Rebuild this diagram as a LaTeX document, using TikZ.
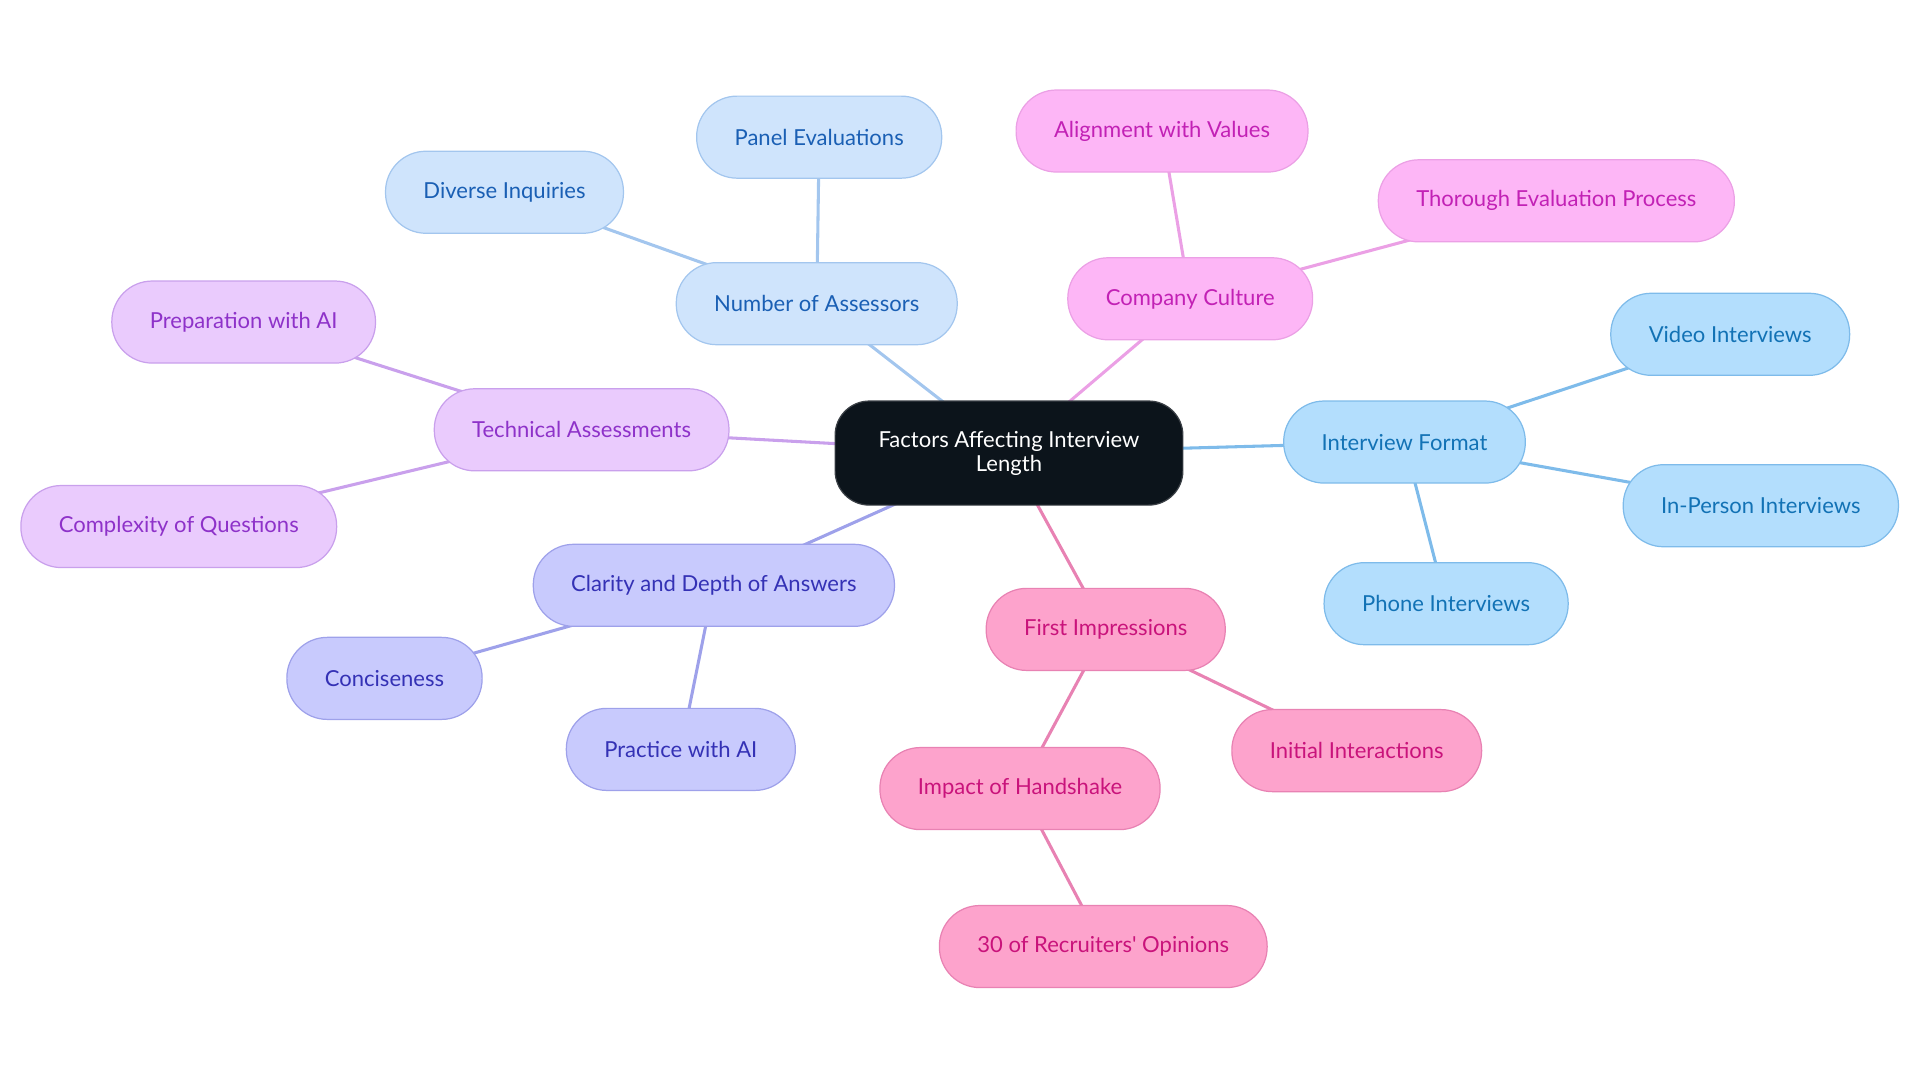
\documentclass[tikz,border=0pt]{standalone}
\usepackage{fontspec}
\setmainfont{Lato}
\usepackage{tikz}
\usetikzlibrary{positioning, backgrounds}

\definecolor{zentrumfill}{HTML}{0C141B}
\definecolor{zentrumrand}{HTML}{3A3F45}
\definecolor{hellblaufill}{HTML}{CFE4FC}
\definecolor{hellblaulinie}{HTML}{A3C6EE}
\definecolor{hellblautext}{HTML}{1A5FB4}
\definecolor{himmelfill}{HTML}{B3DEFD}
\definecolor{himmellinie}{HTML}{7EBBEA}
\definecolor{himmeltext}{HTML}{1272B5}
\definecolor{magentafill}{HTML}{FDB6F6}
\definecolor{magentalinie}{HTML}{EBA0E5}
\definecolor{magentatext}{HTML}{C221B5}
\definecolor{lilafill}{HTML}{EACBFD}
\definecolor{lilalinie}{HTML}{C9A0EC}
\definecolor{lilatext}{HTML}{8E32C9}
\definecolor{violettfill}{HTML}{C8CAFD}
\definecolor{violettlinie}{HTML}{9EA1EA}
\definecolor{violetttext}{HTML}{3431B5}
\definecolor{rosafill}{HTML}{FDA3CC}
\definecolor{rosalinie}{HTML}{E882B3}
\definecolor{rosatext}{HTML}{C9137B}

\begin{document}
\begin{tikzpicture}[x=0.5pt, y=-0.5pt,
        pille/.style={rectangle, rounded corners=16.5pt, minimum height=33.5pt,
            inner xsep=15.5pt, line width=0.5pt, font=\fontsize{9}{9.7}\selectfont},
        hellblau/.style={pille, fill=hellblaufill, draw=hellblaulinie, text=hellblautext},
        himmel/.style={pille, fill=himmelfill, draw=himmellinie, text=himmeltext},
        magenta/.style={pille, fill=magentafill, draw=magentalinie, text=magentatext},
        lila/.style={pille, fill=lilafill, draw=lilalinie, text=lilatext},
        violett/.style={pille, fill=violettfill, draw=violettlinie, text=violetttext},
        rosa/.style={pille, fill=rosafill, draw=rosalinie, text=rosatext},
        ast/.style={line width=1.25pt}]

        \useasboundingbox (0,0) rectangle (1568,884.5);

        % Zentrum
        \node[rectangle, rounded corners=14pt, minimum width=142pt, minimum height=42.5pt,
            fill=zentrumfill, draw=zentrumrand, line width=0.5pt, text=white, align=center,
            font=\fontsize{9}{9.7}\selectfont] (zentrum) at (824, 370)
            {Factors Affecting Interview\\Length};

        % Anzahl der Assessoren
        \node[hellblau] (anzahl) at (667, 248) {Number of Assessors};
        \node[hellblau] (panel) at (669, 112) {Panel Evaluations};
        \node[hellblau] (fragen) at (412, 157) {Diverse Inquiries};

        % Unternehmenskultur
        \node[magenta] (kultur) at (972, 244) {Company Culture};
        \node[magenta] (werte) at (949, 107) {Alignment with Values};
        \node[magenta] (prozess) at (1271, 164) {Thorough Evaluation Process};

        % Interviewformat
        \node[himmel] (format) at (1147, 361) {Interview Format};
        \node[himmel] (video) at (1413, 273) {Video Interviews};
        \node[himmel] (person) at (1438, 413) {In-Person Interviews};
        \node[himmel] (telefon) at (1181, 493) {Phone Interviews};

        % Technische Tests
        \node[lila] (technik) at (475, 351) {Technical Assessments};
        \node[lila] (vorbereitung) at (199, 263) {Preparation with AI};
        \node[lila] (komplex) at (146, 430) {Complexity of Questions};

        % Klarheit der Antworten
        \node[violett] (klarheit) at (583, 478) {Clarity and Depth of Answers};
        \node[violett] (kurz) at (314, 554) {Conciseness};
        \node[violett] (uebung) at (556, 612) {Practice with AI};

        % Erster Eindruck
        \node[rosa] (eindruck) at (903, 514) {First Impressions};
        \node[rosa] (kontakt) at (1108, 613) {Initial Interactions};
        \node[rosa] (hand) at (833, 644) {Impact of Handshake};
        \node[rosa] (meinung) at (901, 773) {30 of Recruiters\textquotesingle\ Opinions};

        % Verbindungen (hinter den Knoten)
        \begin{scope}[on background layer]
        \draw[ast, hellblaulinie] (zentrum.center) -- (anzahl.center);
        \draw[ast, hellblaulinie] (anzahl.center) -- (panel.center);
        \draw[ast, hellblaulinie] (anzahl.center) -- (fragen.center);

        \draw[ast, magentalinie] (zentrum.center) -- (kultur.center);
        \draw[ast, magentalinie] (kultur.center) -- (werte.center);
        \draw[ast, magentalinie] (kultur.center) -- (prozess.center);

        \draw[ast, himmellinie] (zentrum.center) -- (format.center);
        \draw[ast, himmellinie] (format.center) -- (video.center);
        \draw[ast, himmellinie] (format.center) -- (person.center);
        \draw[ast, himmellinie] (format.center) -- (telefon.center);

        \draw[ast, lilalinie] (zentrum.center) -- (technik.center);
        \draw[ast, lilalinie] (technik.center) -- (vorbereitung.center);
        \draw[ast, lilalinie] (technik.center) -- (komplex.center);

        \draw[ast, violettlinie] (zentrum.center) -- (klarheit.center);
        \draw[ast, violettlinie] (klarheit.center) -- (kurz.center);
        \draw[ast, violettlinie] (klarheit.center) -- (uebung.center);

        \draw[ast, rosalinie] (zentrum.center) -- (eindruck.center);
        \draw[ast, rosalinie] (eindruck.center) -- (kontakt.center);
        \draw[ast, rosalinie] (eindruck.center) -- (hand.center);
        \draw[ast, rosalinie] (hand.center) -- (meinung.center);
        \end{scope}

    \end{tikzpicture}
\end{document}
